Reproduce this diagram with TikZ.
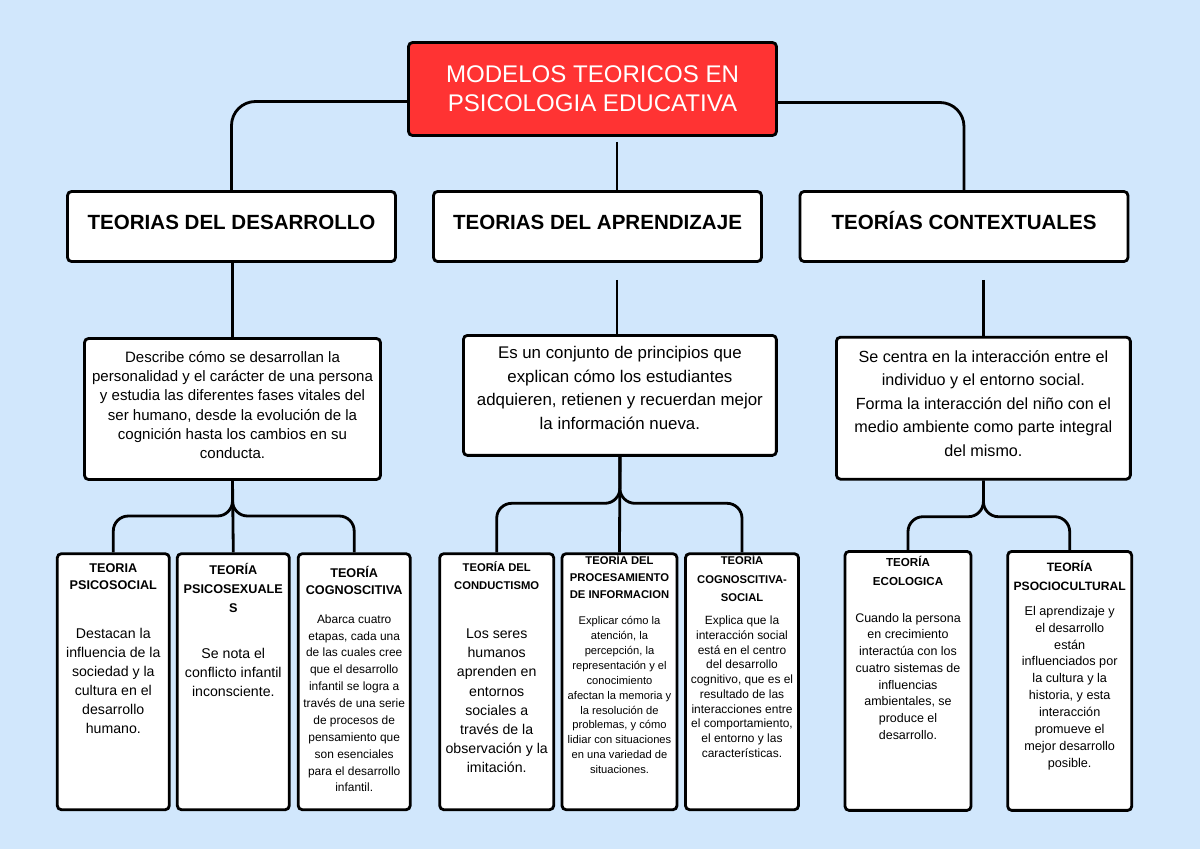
\documentclass[tikz,border=0pt]{standalone}
\usepackage{fontspec}
\setmainfont{Liberation Sans}
\usetikzlibrary{positioning}
\definecolor{fondo}{RGB}{209,231,252}
\definecolor{rojo}{RGB}{255,51,51}
\newcommand{\fs}[2]{\fontsize{#1}{#2}\selectfont}

\begin{document}
\begin{tikzpicture}[x=0.02cm, y=-0.02cm,
		caja/.style={draw=black, line width=1.6pt, rounded corners=0.08cm, fill=white, inner sep=0pt},
		nivel/.style={caja, minimum width=6.56cm, minimum height=1.4cm, font=\bfseries\fs{11.7}{14}, text height=8.4pt, text depth=5.1pt},
		hoja/.style={caja, minimum height=5.12cm},
		link/.style={draw=black, line width=1.6pt},
		brazo/.style={link, rounded corners=0.3cm},
		texto/.style={inner sep=0pt, align=center}]
	\fill[fondo] (0, 0) rectangle (1200, 849);
	\useasboundingbox (0, 0) rectangle (1200, 849);

	\node[caja, fill=rojo, minimum width=7.36cm, minimum height=1.86cm, text=white, align=center, font=\fs{13.7}{16.4}] (titulo) at (592.5, 89) {MODELOS TEORICOS EN\\PSICOLOGIA EDUCATIVA};

	\node[nivel] (desarrollo) at (231.5, 226.5) {TEORIAS DEL DESARROLLO};
	\node[nivel] (aprendizaje) at (597.5, 226.5) {TEORIAS DEL APRENDIZAJE};
	\node[nivel] (contextuales) at (964, 226.5) {TEORÍAS CONTEXTUALES};

	\node[caja, minimum width=5.92cm, minimum height=2.82cm] (ddesc) at (232.5, 409) {};
	\node[texto, font=\fs{8.56}{10.9}] (ddesc-t) at (232.5, 405) {Describe cómo se desarrollan la\\personalidad y el carácter de una persona\\y estudia las diferentes fases vitales del\\ser humano, desde la evolución de la\\cognición hasta los cambios en su\\conducta.};
	\node[caja, minimum width=6.26cm, minimum height=2.4cm] (adesc) at (619.9, 395.4) {};
	\node[texto, font=\fs{9.6}{13.3}] (adesc-t) at (619.9, 388) {Es un conjunto de principios que\\explican cómo los estudiantes\\adquieren, retienen y recuerdan mejor\\la información nueva.};
	\node[caja, minimum width=5.88cm, minimum height=2.84cm] (cdesc) at (983.4, 408.2) {};
	\node[texto, font=\fs{9.2}{13.4}] (cdesc-t) at (983.4, 403.4) {Se centra en la interacción entre el\\individuo y el entorno social.\\Forma la interacción del niño con el\\medio ambiente como parte integral\\del mismo.};

	\node[hoja, minimum width=2.24cm] (psicosocial) at (113.3, 681.7) {};
	\node[hoja, minimum width=2.24cm] (psicosexual) at (233.3, 681.7) {};
	\node[hoja, minimum width=2.24cm] (cognoscitiva) at (354.2, 681.7) {};
	\node[hoja, minimum width=2.28cm] (conductismo) at (496.7, 681.7) {};
	\node[hoja, minimum width=2.3cm] (procesamiento) at (619.5, 681.7) {};
	\node[hoja, minimum width=2.26cm] (cogsocial) at (742, 681.7) {};
	\node[hoja, minimum width=2.52cm, minimum height=5.18cm] (ecologica) at (908, 680.9) {};
	\node[hoja, minimum width=2.48cm, minimum height=5.18cm] (psocio) at (1069.7, 680.9) {};

	\node[texto, font=\bfseries\fs{7.2}{9.5}] (psicosocial-t) at (113.3, 576.7) {TEORIA\\PSICOSOCIAL};
	\node[texto, font=\fs{8.05}{10.8}] (psicosocial-c) at (113.3, 680.5) {Destacan la\\influencia de la\\sociedad y la\\cultura en el\\desarrollo\\humano.};
	\node[texto, font=\bfseries\fs{7.2}{10.6}] (psicosexual-t) at (233.3, 588) {TEORÍA\\PSICOSEXUALE\\S};
	\node[texto, font=\fs{8.05}{10.8}] (psicosexual-c) at (233.3, 672.4) {Se nota el\\conflicto infantil\\inconsciente.};
	\node[texto, font=\bfseries\fs{7.2}{10}] (cognoscitiva-t) at (354.2, 580.5) {TEORÍA\\COGNOSCITIVA};
	\node[texto, font=\fs{6.8}{9.6}] (cognoscitiva-c) at (354.2, 703.3) {Abarca cuatro\\etapas, cada una\\de las cuales cree\\que el desarrollo\\infantil se logra a\\través de una serie\\de procesos de\\pensamiento que\\son esenciales\\para el desarrollo\\infantil.};

	\node[texto, font=\bfseries\fs{6.4}{10.4}] (conductismo-t) at (496.7, 575.8) {TEORÍA DEL\\CONDUCTISMO};
	\node[texto, font=\fs{8.05}{10.9}] (conductismo-c) at (496.7, 700.8) {Los seres\\humanos\\aprenden en\\entornos\\sociales a\\través de la\\observación y la\\imitación.};
	\node[texto, font=\bfseries\fs{6.4}{9.8}] (procesamiento-t) at (619.5, 576.7) {TEORÍA DEL\\PROCESAMIENTO\\DE INFORMACION};
	\node[texto, font=\fs{6.35}{8.5}] (procesamiento-c) at (619.5, 695) {Explicar cómo la\\atención, la\\percepción, la\\representación y el\\conocimiento\\afectan la memoria y\\la resolución de\\problemas, y cómo\\lidiar con situaciones\\en una variedad de\\situaciones.};
	\node[texto, font=\bfseries\fs{6.4}{10.6}] (cogsocial-t) at (742, 578.4) {TEORÍA\\COGNOSCITIVA-\\SOCIAL};
	\node[texto, font=\fs{6.8}{8.4}] (cogsocial-c) at (742, 686.7) {Explica que la\\interacción social\\está en el centro\\del desarrollo\\cognitivo, que es el\\resultado de las\\interacciones entre\\el comportamiento,\\el entorno y las\\características.};

	\node[texto, font=\bfseries\fs{6.6}{10.8}] (ecologica-t) at (908, 571.2) {TEORÍA\\ECOLOGICA};
	\node[texto, font=\fs{7.1}{9.5}] (ecologica-c) at (908, 676.2) {Cuando la persona\\en crecimiento\\interactúa con los\\cuatro sistemas de\\influencias\\ambientales, se\\produce el\\desarrollo.};
	\node[texto, font=\bfseries\fs{6.9}{10.4}] (psocio-t) at (1069.7, 575.8) {TEORÍA\\PSOCIOCULTURAL};
	\node[texto, font=\fs{7.2}{9.6}] (psocio-c) at (1069.7, 687.9) {El aprendizaje y\\el desarrollo\\están\\influenciados por\\la cultura y la\\historia, y esta\\interacción\\promueve el\\mejor desarrollo\\posible.};

	\coordinate (eje) at (617, 0);
	\coordinate (dbar) at (232.5, 516);
	\coordinate (abar) at (619.9, 503.3);
	\coordinate (cbar) at (983.4, 516.7);

	\draw[link, rounded corners=0.48cm] ([yshift=-0.25cm]titulo.west) -| (desarrollo.north);
	\draw[link, rounded corners=0.48cm] ([yshift=-0.27cm]titulo.east) -| (contextuales.north);
	\draw[link, shorten <=0.1cm] (titulo.south -| eje) -- (aprendizaje.north -| eje);

	\draw[link] (desarrollo.south -| ddesc.north) -- (ddesc.north);
	\draw[link, shorten <=0.34cm] (aprendizaje.south -| eje) -- (adesc.north -| eje);
	\draw[link, shorten <=0.34cm] (contextuales.south -| cdesc.north) -- (cdesc.north);

	\draw[brazo] (ddesc.south) -- (dbar) -| (psicosocial.north);
	\draw[brazo] (ddesc.south) -- (dbar) -| (cognoscitiva.north);
	\draw[link] (ddesc.south) -- (psicosexual.north);
	\draw[brazo] (adesc.south) -- (abar) -| (conductismo.north);
	\draw[brazo] (adesc.south) -- (abar) -| (cogsocial.north);
	\draw[link] (adesc.south) -- (procesamiento.north);
	\draw[brazo] (cdesc.south) -- (cbar) -| (ecologica.north);
	\draw[brazo] (cdesc.south) -- (cbar) -| (psocio.north);
\end{tikzpicture}
\end{document}
